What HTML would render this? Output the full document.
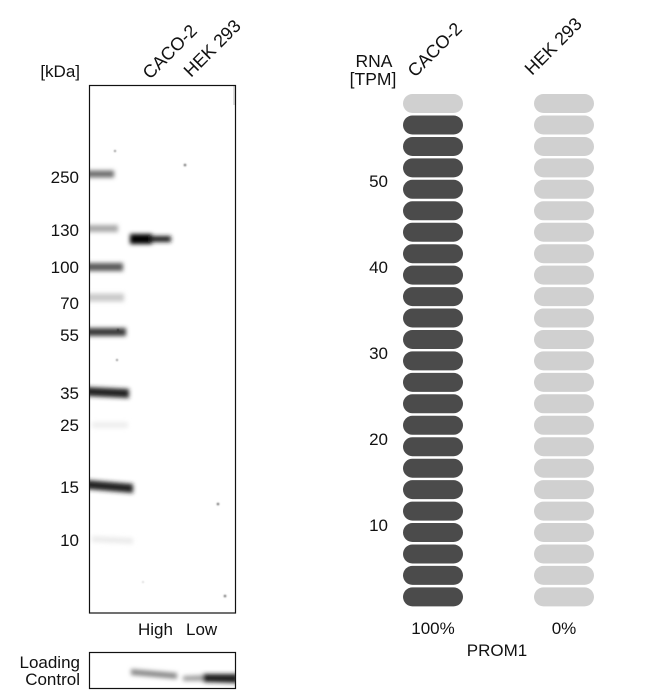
<!DOCTYPE html>
<html><head><meta charset="utf-8"><style>
html,body{margin:0;padding:0;background:#fff;}
svg{display:block;}
text{font-family:"Liberation Sans",Arial,sans-serif;fill:#111;}
</style></head><body>
<svg width="658" height="693" viewBox="0 0 658 693" xmlns="http://www.w3.org/2000/svg">
<defs>
<filter id="b" filterUnits="userSpaceOnUse" x="0" y="0" width="658" height="693"><feGaussianBlur stdDeviation="2.2"/></filter>
<filter id="b2" filterUnits="userSpaceOnUse" x="0" y="0" width="658" height="693"><feGaussianBlur stdDeviation="0.8"/></filter>
<clipPath id="blot"><rect x="90" y="86" width="145" height="527"/></clipPath>
<clipPath id="lc"><rect x="90" y="653" width="145" height="35"/></clipPath>
</defs>
<rect width="658" height="693" fill="#fff"/>

<!-- Western blot -->
<text x="80" y="77" font-size="17" text-anchor="end">[kDa]</text>
<text transform="translate(150,80) rotate(-45)" font-size="18">CACO-2</text>
<text transform="translate(191,78) rotate(-45)" font-size="18">HEK 293</text>

<g font-size="17" text-anchor="end">
<text x="79" y="183">250</text>
<text x="79" y="236">130</text>
<text x="79" y="273">100</text>
<text x="79" y="309">70</text>
<text x="79" y="341">55</text>
<text x="79" y="399">35</text>
<text x="79" y="431">25</text>
<text x="79" y="493">15</text>
<text x="79" y="546">10</text>
</g>

<g clip-path="url(#blot)">
<g filter="url(#b)">
<rect x="86" y="170.5" width="28" height="7" fill="#6e6e6e"/>
<rect x="86" y="225" width="32" height="7" fill="#a8a8a8"/>
<rect x="86" y="263" width="37" height="8" fill="#5a5a5a"/>
<rect x="86" y="293.5" width="38" height="8" fill="#cacaca"/>
<rect x="86" y="328" width="40" height="8" fill="#3a3a3a"/>
<polygon points="86,387 129,389 129,398 86,396" fill="#222"/>
<rect x="92" y="422" width="36" height="6" fill="#eeeeee"/>
<polygon points="86,480 133,484 133,493 86,489" fill="#222"/>
<polygon points="92,536 133,538 133,544 92,542" fill="#ebebeb"/>
<rect x="130" y="234" width="22" height="10" fill="#000"/>
<rect x="150" y="236" width="21" height="6" fill="#1a1a1a"/>
</g>
</g>
<g filter="url(#b2)" fill="#777">
<circle cx="115" cy="151" r="1"/>
<circle cx="185" cy="165" r="1.3"/>
<circle cx="117" cy="360" r="1"/>
<circle cx="218" cy="504" r="1.3"/>
<circle cx="225" cy="596" r="1.3"/>
<circle cx="143" cy="582" r="0.8" fill="#bbb"/>
<circle cx="118" cy="330" r="1" fill="#222"/>
</g>
<line x1="234" y1="86" x2="234" y2="105" stroke="#bbb" stroke-width="1"/>
<rect x="89.5" y="85.5" width="146" height="527.5" fill="none" stroke="#111" stroke-width="1.2"/>

<text x="138" y="635" font-size="17">High</text>
<text x="186" y="635" font-size="17">Low</text>

<text x="80" y="668" font-size="17" text-anchor="end">Loading</text>
<text x="80" y="685" font-size="17" text-anchor="end">Control</text>
<g clip-path="url(#lc)">
<g filter="url(#b)">
<polygon points="131,669 177,673 177,679 131,675" fill="#8a8a8a"/>
<polygon points="183,676 205,675 205,681 183,681" fill="#a0a0a0"/>
<polygon points="203,674 238,674 238,683 203,682" fill="#1a1a1a"/>
</g>
</g>
<rect x="89.5" y="652.5" width="146" height="36" fill="none" stroke="#111" stroke-width="1.2"/>

<!-- RNA -->
<text x="374" y="67" font-size="17.5" text-anchor="middle">RNA</text>
<text x="373" y="85" font-size="17.5" text-anchor="middle">[TPM]</text>
<text transform="translate(415,78) rotate(-45)" font-size="18">CACO-2</text>
<text transform="translate(532,76) rotate(-45)" font-size="18">HEK 293</text>

<g font-size="17" text-anchor="end">
<text x="388" y="187">50</text>
<text x="388" y="273">40</text>
<text x="388" y="359">30</text>
<text x="388" y="445">20</text>
<text x="388" y="531">10</text>
</g>

<g>
<rect x="403" y="94" width="60" height="19" rx="9.5" fill="#d0d0d0"/>
<rect x="403" y="115.5" width="60" height="19" rx="9.5" fill="#4b4b4b"/>
<rect x="403" y="137" width="60" height="19" rx="9.5" fill="#4b4b4b"/>
<rect x="403" y="158.4" width="60" height="19" rx="9.5" fill="#4b4b4b"/>
<rect x="403" y="179.8" width="60" height="19" rx="9.5" fill="#4b4b4b"/>
<rect x="403" y="201.3" width="60" height="19" rx="9.5" fill="#4b4b4b"/>
<rect x="403" y="222.7" width="60" height="19" rx="9.5" fill="#4b4b4b"/>
<rect x="403" y="244.2" width="60" height="19" rx="9.5" fill="#4b4b4b"/>
<rect x="403" y="265.6" width="60" height="19" rx="9.5" fill="#4b4b4b"/>
<rect x="403" y="287.1" width="60" height="19" rx="9.5" fill="#4b4b4b"/>
<rect x="403" y="308.5" width="60" height="19" rx="9.5" fill="#4b4b4b"/>
<rect x="403" y="330" width="60" height="19" rx="9.5" fill="#4b4b4b"/>
<rect x="403" y="351.4" width="60" height="19" rx="9.5" fill="#4b4b4b"/>
<rect x="403" y="372.9" width="60" height="19" rx="9.5" fill="#4b4b4b"/>
<rect x="403" y="394.3" width="60" height="19" rx="9.5" fill="#4b4b4b"/>
<rect x="403" y="415.8" width="60" height="19" rx="9.5" fill="#4b4b4b"/>
<rect x="403" y="437.2" width="60" height="19" rx="9.5" fill="#4b4b4b"/>
<rect x="403" y="458.7" width="60" height="19" rx="9.5" fill="#4b4b4b"/>
<rect x="403" y="480.1" width="60" height="19" rx="9.5" fill="#4b4b4b"/>
<rect x="403" y="501.6" width="60" height="19" rx="9.5" fill="#4b4b4b"/>
<rect x="403" y="523" width="60" height="19" rx="9.5" fill="#4b4b4b"/>
<rect x="403" y="544.5" width="60" height="19" rx="9.5" fill="#4b4b4b"/>
<rect x="403" y="565.9" width="60" height="19" rx="9.5" fill="#4b4b4b"/>
<rect x="403" y="587.4" width="60" height="19" rx="9.5" fill="#4b4b4b"/>
</g>
<g fill="#d0d0d0">
<rect x="534" y="94" width="60" height="19" rx="9.5"/>
<rect x="534" y="115.5" width="60" height="19" rx="9.5"/>
<rect x="534" y="137" width="60" height="19" rx="9.5"/>
<rect x="534" y="158.4" width="60" height="19" rx="9.5"/>
<rect x="534" y="179.8" width="60" height="19" rx="9.5"/>
<rect x="534" y="201.3" width="60" height="19" rx="9.5"/>
<rect x="534" y="222.7" width="60" height="19" rx="9.5"/>
<rect x="534" y="244.2" width="60" height="19" rx="9.5"/>
<rect x="534" y="265.6" width="60" height="19" rx="9.5"/>
<rect x="534" y="287.1" width="60" height="19" rx="9.5"/>
<rect x="534" y="308.5" width="60" height="19" rx="9.5"/>
<rect x="534" y="330" width="60" height="19" rx="9.5"/>
<rect x="534" y="351.4" width="60" height="19" rx="9.5"/>
<rect x="534" y="372.9" width="60" height="19" rx="9.5"/>
<rect x="534" y="394.3" width="60" height="19" rx="9.5"/>
<rect x="534" y="415.8" width="60" height="19" rx="9.5"/>
<rect x="534" y="437.2" width="60" height="19" rx="9.5"/>
<rect x="534" y="458.7" width="60" height="19" rx="9.5"/>
<rect x="534" y="480.1" width="60" height="19" rx="9.5"/>
<rect x="534" y="501.6" width="60" height="19" rx="9.5"/>
<rect x="534" y="523" width="60" height="19" rx="9.5"/>
<rect x="534" y="544.5" width="60" height="19" rx="9.5"/>
<rect x="534" y="565.9" width="60" height="19" rx="9.5"/>
<rect x="534" y="587.4" width="60" height="19" rx="9.5"/>
</g>

<text x="433" y="634" font-size="17" text-anchor="middle">100%</text>
<text x="564" y="634" font-size="17" text-anchor="middle">0%</text>
<text x="497" y="656" font-size="17" text-anchor="middle">PROM1</text>
</svg>
</body></html>
